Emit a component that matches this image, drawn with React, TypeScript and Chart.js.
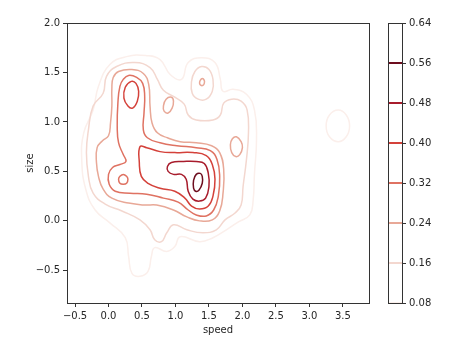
import React, { useEffect, useRef } from "react";
import { Chart, registerables } from "chart.js";

Chart.register(...registerables);

// ---- values ----
const levels = [0.08, 0.16, 0.24, 0.32, 0.4, 0.48, 0.56];
const levelColors = ["#fbefeb", "#f3d7cf", "#e8a897", "#df7262", "#d4413a", "#a81c2c", "#6d0d1e"];
const xTicks = [-0.5, 0, 0.5, 1, 1.5, 2, 2.5, 3, 3.5];
const yTicks = [-0.5, 0, 0.5, 1, 1.5, 2];
const cbarTicks = [0.08, 0.16, 0.24, 0.32, 0.4, 0.48, 0.56, 0.64];
const xLabel = "speed";
const yLabel = "size";

type P = [number, number];

// contour lines (speed, size)
const peak056: P[] = [[1.37,0.48],[1.40,0.45],[1.40,0.38],[1.35,0.31],[1.30,0.30],[1.27,0.33],[1.27,0.41],[1.31,0.47]];
const peak048: P[] = [[0.88,0.55],[0.94,0.59],[1.12,0.60],[1.31,0.60],[1.43,0.58],[1.49,0.48],[1.50,0.35],[1.45,0.23],[1.36,0.20],[1.26,0.22],[1.19,0.30],[1.16,0.42],[1.09,0.47],[0.97,0.47],[0.89,0.50]];
const peak040: P[] = [[0.47,0.75],[0.57,0.74],[0.77,0.70],[0.99,0.69],[1.26,0.69],[1.46,0.66],[1.55,0.57],[1.59,0.42],[1.56,0.25],[1.49,0.15],[1.36,0.12],[1.24,0.15],[1.14,0.23],[0.99,0.30],[0.77,0.33],[0.59,0.38],[0.49,0.45],[0.46,0.59]];
const topLeft040: P[] = [[0.34,1.41],[0.41,1.39],[0.45,1.31],[0.43,1.21],[0.36,1.14],[0.29,1.16],[0.23,1.24],[0.25,1.35]];
const main032: P[] = [[0.30,1.47],[0.42,1.45],[0.51,1.39],[0.54,1.26],[0.53,1.09],[0.52,0.92],[0.58,0.84],[0.77,0.79],[1.02,0.76],[1.31,0.74],[1.52,0.71],[1.62,0.62],[1.66,0.45],[1.64,0.25],[1.57,0.11],[1.46,0.05],[1.31,0.06],[1.19,0.11],[1.04,0.19],[0.82,0.23],[0.57,0.27],[0.32,0.28],[0.10,0.30],[0.01,0.37],[0.00,0.47],[0.06,0.54],[0.17,0.57],[0.26,0.60],[0.22,0.67],[0.15,0.79],[0.13,0.96],[0.14,1.19],[0.17,1.36],[0.22,1.43]];
const hole032: P[] = [[0.22,0.47],[0.27,0.45],[0.29,0.42],[0.27,0.38],[0.22,0.37],[0.17,0.38],[0.15,0.42],[0.17,0.45]];
const main024: P[] = [[0.15,1.51],[0.35,1.53],[0.52,1.49],[0.60,1.38],[0.62,1.16],[0.65,0.99],[0.73,0.89],[0.88,0.84],[1.07,0.80],[1.31,0.79],[1.54,0.76],[1.66,0.69],[1.72,0.52],[1.71,0.28],[1.66,0.10],[1.55,0.01],[1.36,0.00],[1.17,0.04],[0.97,0.11],[0.72,0.16],[0.54,0.16],[0.30,0.18],[0.05,0.23],[-0.08,0.32],[-0.15,0.45],[-0.18,0.59],[-0.17,0.74],[-0.09,0.81],[0.00,0.86],[0.03,0.99],[0.05,1.16],[0.05,1.34],[0.07,1.45]];
const oval024: P[] = [[0.94,1.25],[0.97,1.21],[0.95,1.14],[0.89,1.09],[0.83,1.11],[0.82,1.16],[0.86,1.23]];
const dot024: P[] = [[1.40,1.44],[1.43,1.42],[1.43,1.39],[1.41,1.37],[1.38,1.37],[1.36,1.39],[1.37,1.42]];
const right024: P[] = [[1.91,0.85],[1.98,0.80],[2.00,0.74],[1.96,0.67],[1.90,0.65],[1.84,0.69],[1.82,0.77],[1.85,0.83]];
const main016: P[] = [[-0.08,1.29],[-0.03,1.46],[0.12,1.56],[0.39,1.60],[0.62,1.55],[0.73,1.43],[0.82,1.32],[0.99,1.25],[1.13,1.18],[1.19,1.07],[1.31,1.02],[1.56,1.02],[1.67,1.07],[1.72,1.19],[1.84,1.23],[1.98,1.21],[2.07,1.12],[2.09,0.89],[2.06,0.62],[2.01,0.35],[1.98,0.16],[1.89,0.08],[1.74,0.01],[1.61,-0.09],[1.41,-0.12],[1.17,-0.09],[0.97,-0.04],[0.87,-0.12],[0.79,-0.21],[0.69,-0.19],[0.62,-0.09],[0.47,0.01],[0.20,0.10],[-0.05,0.17],[-0.23,0.28],[-0.30,0.45],[-0.33,0.69],[-0.30,0.92],[-0.23,1.16]];
const blob016: P[] = [[1.39,1.56],[1.50,1.53],[1.56,1.43],[1.55,1.31],[1.46,1.23],[1.34,1.23],[1.25,1.29],[1.24,1.41],[1.29,1.51]];
const main008: P[] = [[-0.23,1.12],[-0.15,1.36],[0.02,1.58],[0.27,1.66],[0.57,1.67],[0.77,1.63],[0.92,1.48],[1.09,1.43],[1.19,1.60],[1.39,1.65],[1.59,1.60],[1.67,1.43],[1.71,1.31],[1.86,1.33],[2.06,1.28],[2.18,1.12],[2.21,0.82],[2.18,0.48],[2.16,0.21],[2.11,0.06],[1.94,-0.01],[1.76,-0.09],[1.56,-0.17],[1.36,-0.21],[1.07,-0.16],[0.99,-0.26],[0.87,-0.31],[0.69,-0.27],[0.64,-0.36],[0.59,-0.51],[0.47,-0.56],[0.35,-0.53],[0.30,-0.36],[0.25,-0.17],[0.02,-0.02],[-0.20,0.11],[-0.34,0.32],[-0.40,0.62],[-0.37,0.89]];
const far008: P[] = [[3.43,1.12],[3.55,1.07],[3.60,0.96],[3.55,0.85],[3.43,0.80],[3.30,0.85],[3.25,0.96],[3.30,1.07]];

const contours: { level: number; pts: P[] }[] = [
  { level: 0.56, pts: peak056 },
  { level: 0.48, pts: peak048 },
  { level: 0.4, pts: peak040 },
  { level: 0.4, pts: topLeft040 },
  { level: 0.32, pts: main032 },
  { level: 0.32, pts: hole032 },
  { level: 0.24, pts: main024 },
  { level: 0.24, pts: oval024 },
  { level: 0.24, pts: dot024 },
  { level: 0.24, pts: right024 },
  { level: 0.16, pts: main016 },
  { level: 0.16, pts: blob016 },
  { level: 0.08, pts: main008 },
  { level: 0.08, pts: far008 },
];

const FONT = { family: "'DejaVu Sans', sans-serif", size: 10 };
const TEXT = "#262626";
const AXIS = "#333333";

const colorOf = (lv: number) => levelColors[levels.findIndex((l) => Math.abs(l - lv) < 1e-9)];
const fmt1 = (v: number) => (v < 0 ? "\u2212" + Math.abs(v).toFixed(1) : v.toFixed(1));

const framePlugin = {
  id: "frame",
  afterDatasetsDraw(chart: any) {
    const { ctx, chartArea: a } = chart;
    ctx.save();
    ctx.strokeStyle = AXIS;
    ctx.lineWidth = 1;
    ctx.strokeRect(Math.round(a.left) + 0.5, Math.round(a.top) + 0.5, Math.round(a.width), Math.round(a.height));
    ctx.restore();
  },
};

function closedDataset(pts: P[], color: string) {
  const n = pts.length;
  const loop = [...pts, pts[0], pts[1], pts[2]].map(([x, y]) => ({ x, y }));
  return {
    data: loop,
    showLine: true,
    borderColor: color,
    borderWidth: 1.5,
    pointRadius: 0,
    pointHoverRadius: 0,
    fill: false,
    tension: 0.45,
    segment: {
      borderColor: (c: any) => (c.p0DataIndex === 0 || c.p0DataIndex === n + 1 ? "rgba(0,0,0,0)" : undefined),
    },
  };
}

export default function App() {
  const mainRef = useRef<HTMLCanvasElement | null>(null);
  const cbarRef = useRef<HTMLCanvasElement | null>(null);

  useEffect(() => {
    const main = new Chart(mainRef.current!, {
      type: "scatter",
      data: { datasets: contours.map((c) => closedDataset(c.pts, colorOf(c.level))) as any },
      options: {
        responsive: false,
        animation: false,
        devicePixelRatio: 1,
        layout: { padding: { left: 0, top: 23, right: 105, bottom: 0 } },
        plugins: { legend: { display: false }, tooltip: { enabled: false } },
        scales: {
          x: {
            type: "linear",
            min: -0.62,
            max: 3.89,
            afterBuildTicks: (s: any) => { s.ticks = xTicks.map((v) => ({ value: v })); },
            afterFit: (s: any) => { s.height = 49; },
            border: { display: false },
            grid: { drawOnChartArea: false, drawTicks: true, tickLength: 4, color: AXIS },
            ticks: { color: TEXT, font: FONT, padding: 3, maxRotation: 0, autoSkip: false, callback: (v: any) => fmt1(Number(v)) },
            title: { display: true, text: xLabel, color: TEXT, font: FONT, padding: { top: 0, bottom: 16 } },
          },
          y: {
            type: "linear",
            min: -0.83,
            max: 2.0,
            afterBuildTicks: (s: any) => { s.ticks = yTicks.map((v) => ({ value: v })); },
            afterFit: (s: any) => { s.width = 67; },
            border: { display: false },
            grid: { drawOnChartArea: false, drawTicks: true, tickLength: 4, color: AXIS },
            ticks: { color: TEXT, font: FONT, padding: 3, autoSkip: false, callback: (v: any) => fmt1(Number(v)) },
            title: { display: true, text: yLabel, color: TEXT, font: FONT, padding: { top: 24, bottom: 0 } },
          },
        },
      },
      plugins: [framePlugin],
    });

    const cbar = new Chart(cbarRef.current!, {
      type: "scatter",
      data: {
        datasets: levels.map((lv, i) => ({
          data: [{ x: 0, y: lv }, { x: 1, y: lv }],
          showLine: true,
          borderColor: levelColors[i],
          borderWidth: 2,
          pointRadius: 0,
          pointHoverRadius: 0,
          fill: false,
        })) as any,
      },
      options: {
        responsive: false,
        animation: false,
        devicePixelRatio: 1,
        layout: { padding: { left: 388, top: 23, right: 0, bottom: 49 } },
        plugins: { legend: { display: false }, tooltip: { enabled: false } },
        scales: {
          x: { type: "linear", min: 0, max: 1, display: false },
          y: {
            type: "linear",
            position: "right",
            min: 0.08,
            max: 0.64,
            afterBuildTicks: (s: any) => { s.ticks = cbarTicks.map((v) => ({ value: v })); },
            afterFit: (s: any) => { s.width = 72; },
            border: { display: false },
            grid: { drawOnChartArea: false, drawTicks: true, tickLength: 4, color: AXIS },
            ticks: { color: TEXT, font: FONT, padding: 3, autoSkip: false, callback: (v: any) => Number(v).toFixed(2) },
          },
        },
      },
      plugins: [framePlugin],
    });

    return () => {
      main.destroy();
      cbar.destroy();
    };
  }, []);

  return (
    <div style={{ position: "fixed", left: 0, top: 0, width: 474, height: 352, background: "#fff" }}>
      <canvas ref={mainRef} width={474} height={352} style={{ position: "absolute", left: 0, top: 0, width: 474, height: 352 }} />
      <canvas ref={cbarRef} width={474} height={352} style={{ position: "absolute", left: 0, top: 0, width: 474, height: 352 }} />
    </div>
  );
}
